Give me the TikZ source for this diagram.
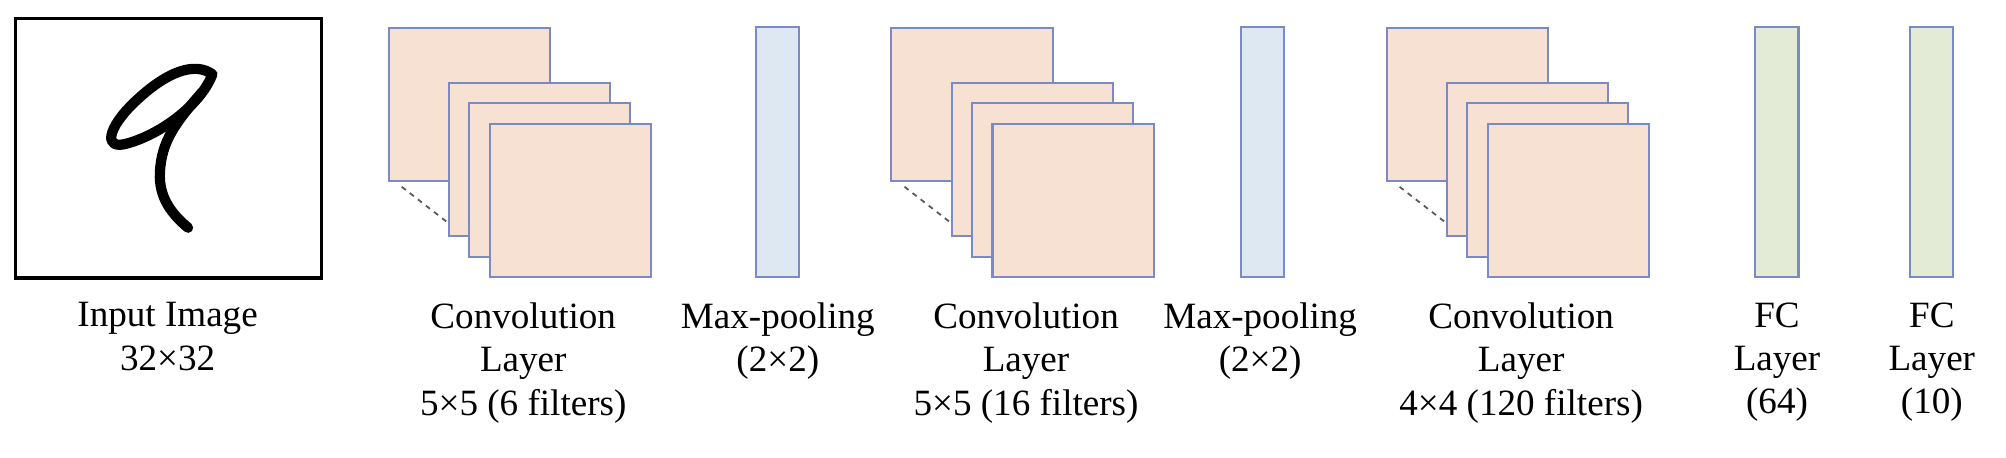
\documentclass[tikz,border=0pt]{standalone}
\usepackage{fontspec}
\setmainfont{Liberation Serif}
\definecolor{edge}{HTML}{7A8AC4}
\definecolor{peach}{HTML}{F6E1D3}
\definecolor{paleblue}{HTML}{DDE8F3}
\definecolor{palegreen}{HTML}{E3EBD6}
\begin{document}
\begin{tikzpicture}[x=0.5pt,y=-0.5pt,
  sheet/.style={draw=edge, line width=0.8pt, fill=peach, minimum width=63pt, minimum height=60pt, anchor=north west, inner sep=0},
  bar/.style={draw=edge, line width=0.8pt, minimum width=17pt, minimum height=98pt, anchor=north west, inner sep=0},
  lab/.style={align=center, font=\fontsize{14.5}{17}\selectfont, anchor=north, inner sep=0pt}]
\useasboundingbox (0,0) rectangle (1568,358);
\node[draw=black, line width=1.3pt, minimum width=119.5pt, minimum height=101.5pt, anchor=north west, inner sep=0] (img) at (11,13) {};
\draw[line width=4pt, line cap=round, line join=round] (166,58) .. controls (152,48) and (130,56) .. (105,80) .. controls (84,100) and (80,118) .. (100,112) .. controls (128,104) and (158,80) .. (166,58);
\draw[line width=4pt, line cap=round] (158,72) .. controls (138,95) and (126,110) .. (125,135) .. controls (124,155) and (135,168) .. (147,178);
\node[lab] (limg) at (131,236) {Input Image\\32×32};
\foreach \x/\n/\t in {0/c1/5×5 (6 filters), 393/c2/5×5 (16 filters), 780/c3/4×4 (120 filters)}{
  \begin{scope}[xshift=\x*0.5pt]
  \node[sheet] (\n a) at (303,21) {};
  \node[sheet] (\n b) at (350,64) {};
  \node[sheet] (\n c) at (366,80) {};
  \node[sheet] (\n d) at (382,96) {};
  \coordinate (\n s) at (314,146);
  \coordinate (\n e) at (\n b.west |- 0,174);
  \draw[dashed, gray!70!black, line width=0.7pt, dash pattern=on 2pt off 2pt] (\n s) -- (\n e);
  \node[lab] (l\n) at (409,236) {Convolution\\Layer\\\t};
  \end{scope}}
\node[bar, fill=paleblue] (p1) at (590,20) {};
\node[lab] (lp1) at (608,236) {Max-pooling\\(2×2)};
\node[bar, fill=paleblue] (p2) at (969,20) {};
\node[lab] (lp2) at (985,236) {Max-pooling\\(2×2)};
\node[bar, fill=palegreen] (f1) at (1371,20) {};
\node[lab] (lf1) at (1389,236) {FC\\Layer\\(64)};
\node[bar, fill=palegreen] (f2) at (1492,20) {};
\node[lab] (lf2) at (1510,236) {FC\\Layer\\(10)};
\end{tikzpicture}
\end{document}
